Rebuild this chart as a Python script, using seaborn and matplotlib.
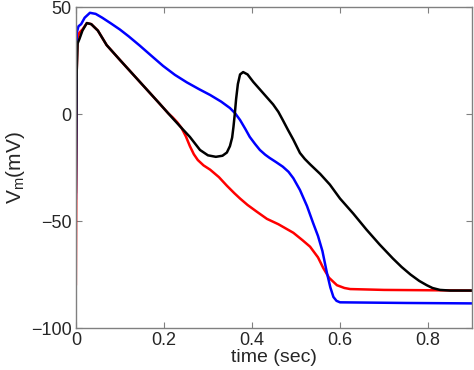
import numpy as np
import pandas as pd
import seaborn as sns
import matplotlib
matplotlib.use('Agg')
import matplotlib.pyplot as plt

# traces (time in s, membrane potential in mV)
t_red = [0, 0.002, 0.004, 0.008, 0.015, 0.025, 0.035, 0.05, 0.07, 0.1, 0.13, 0.16, 0.19,
         0.21, 0.22, 0.23, 0.24, 0.25, 0.259, 0.268, 0.277, 0.29, 0.305, 0.325, 0.343,
         0.36, 0.373, 0.39, 0.41, 0.434, 0.46, 0.494, 0.515, 0.532, 0.55, 0.562, 0.575,
         0.593, 0.61, 0.623, 0.7, 0.9]
v_red = [-80, 20, 36, 38, 39.5, 42.5, 42, 39, 32.2, 25.3, 18.5, 11.7, 4.9,
         0.3, -1.6, -3.8, -6.5, -10.5, -15, -18.8, -21.5, -24, -26, -29.5, -33.5,
         -37, -39.5, -42.5, -45.5, -49, -51.5, -55.5, -59, -62, -67, -72, -76.5,
         -80, -81.3, -81.8, -82.2, -82.5]

t_blue = [0, 0.002, 0.006, 0.012, 0.02, 0.032, 0.045, 0.06, 0.08, 0.1, 0.12, 0.145,
          0.17, 0.198, 0.225, 0.252, 0.28, 0.305, 0.33, 0.35, 0.362, 0.373, 0.385,
          0.395, 0.407, 0.418, 0.43, 0.44, 0.455, 0.47, 0.483, 0.494, 0.509, 0.525,
          0.539, 0.55, 0.56, 0.57, 0.578, 0.585, 0.592, 0.6, 0.65, 0.75, 0.9]
v_blue = [-40, 38, 41, 42, 45, 47.3, 46.8, 45, 42.3, 39.5, 36.3, 32,
          27.5, 22.5, 18.3, 14.8, 11.6, 8.9, 5.8, 2.8, 0.3, -2.8, -7,
          -10.7, -14, -16.8, -19, -20.5, -22.5, -24.6, -27, -30, -35.5, -43,
          -51, -57, -64, -74, -81, -85.5, -87.3, -88, -88.1, -88.3, -88.5]

t_black = [0, 0.002, 0.004, 0.008, 0.015, 0.025, 0.035, 0.05, 0.07, 0.1, 0.13, 0.16,
           0.19, 0.22, 0.24, 0.259, 0.282, 0.3, 0.318, 0.333, 0.343, 0.35, 0.355,
           0.358, 0.361, 0.364, 0.368, 0.373, 0.38, 0.39, 0.403, 0.418, 0.433, 0.448,
           0.46, 0.47, 0.482, 0.494, 0.509, 0.52, 0.532, 0.555, 0.577, 0.6, 0.63,
           0.66, 0.69, 0.72, 0.74, 0.76, 0.78, 0.797, 0.81, 0.827, 0.85, 0.9]
v_black = [-37, 20, 33, 35, 39, 42.5, 42, 39, 32.2, 25.3, 18.5, 11.7,
           4.9, -2, -6.5, -10.7, -16.8, -19.3, -20, -19.5, -18, -15, -11,
           -6, 0, 7, 14, 18.5, 19.6, 18.5, 15, 11.5, 8, 4.5,
           1, -2.8, -7.5, -12, -18.2, -21, -23.5, -28, -33, -39.5, -46.5,
           -54, -61, -67.5, -71.5, -75, -78, -80, -81.3, -82.2, -82.5, -82.5]

sns.set_style('ticks')
plt.rcParams['font.family'] = ['Liberation Sans', 'DejaVu Sans']
plt.rcParams['mathtext.fontset'] = 'custom'
plt.rcParams['mathtext.rm'] = 'Liberation Sans'

fig = plt.figure(figsize=(4.74, 3.70), dpi=100)
ax = fig.add_axes([0.160, 0.1135, 0.836, 0.8675])

for t, v, c in [(t_red, v_red, 'red'), (t_blue, v_blue, 'blue'), (t_black, v_black, 'black')]:
    sns.lineplot(x=t, y=v, ax=ax, color=c, lw=1.8, sort=False, estimator=None)

ax.set_xlim(0, 0.9)
ax.set_ylim(-100, 50)
ax.set_xticks([0, 0.2, 0.4, 0.6, 0.8])
ax.set_xticklabels(['0', '0.2', '0.4', '0.6', '0.8'])
ax.set_yticks([-100, -50, 0, 50])
ax.set_yticklabels(['\u2212100', '\u221250', '0', '50'])
ax.tick_params(direction='in', top=True, right=True, length=4, width=0.8,
               color='#808080', labelsize=13)
ax.tick_params(axis='x', pad=3)
ax.tick_params(axis='y', pad=3)
for s in ax.spines.values():
    s.set_visible(True)
    s.set_color('#808080')
    s.set_linewidth(1.0)
ax.set_xlabel('time (sec)', fontsize=14, labelpad=0)
ax.set_ylabel(r'V$_{\rm m}$(mV)', fontsize=15, labelpad=3)

fig.savefig('out.png', dpi=100)
